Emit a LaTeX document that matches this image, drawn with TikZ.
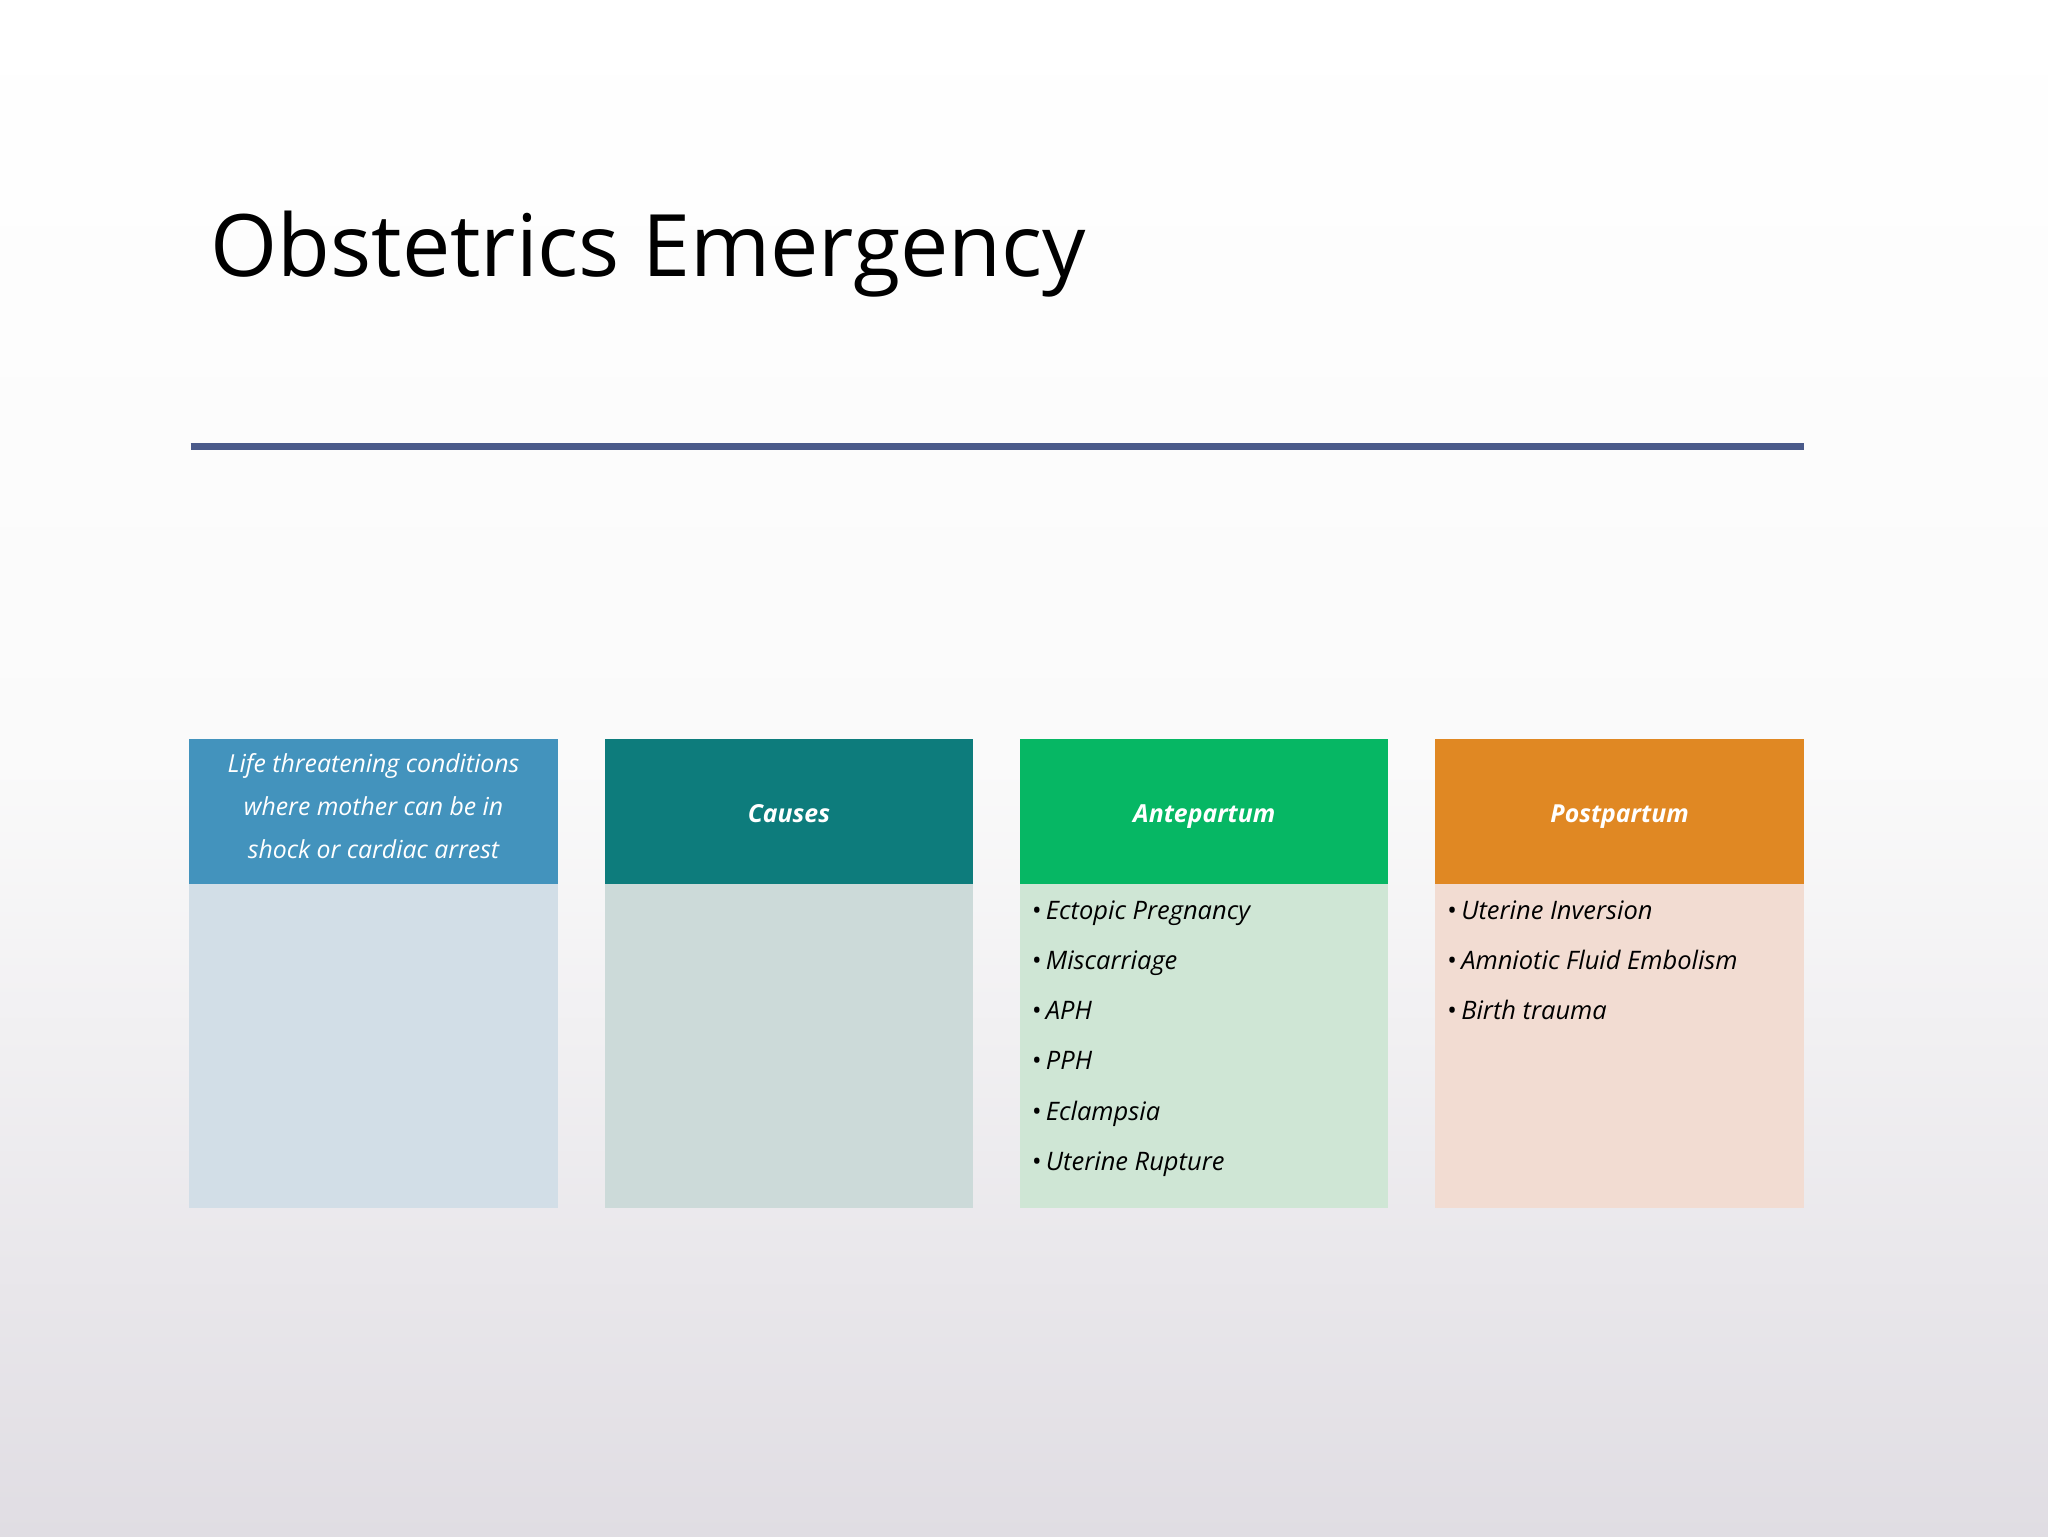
\documentclass[tikz,border=0pt]{standalone}
\usepackage{fontspec}
\setmainfont{Open Sans}
\definecolor{h1}{HTML}{4393BD}\definecolor{b1}{HTML}{D2DEE7}
\definecolor{h2}{HTML}{0D7C7C}\definecolor{b2}{HTML}{CCDAD9}
\definecolor{h3}{HTML}{06B764}\definecolor{b3}{HTML}{CFE6D5}
\definecolor{h4}{HTML}{E08823}\definecolor{b4}{HTML}{F2DCD2}
\definecolor{rule}{HTML}{4A5A8A}
\definecolor{bgbot}{HTML}{E0DDE3}
\begin{document}
\begin{tikzpicture}[x=1pt,y=-1pt,
  hdr/.style={text=white,font=\fontsize{19}{33}\selectfont\itshape,align=center},
  hdrb/.style={text=white,font=\fontsize{19}{33}\selectfont\bfseries\itshape,anchor=base,inner sep=0pt},
  item/.style={anchor=base west,font=\fontsize{19.5}{22}\selectfont\itshape,inner sep=0pt}]
\shade[top color=white,bottom color=bgbot,middle color=white!96!gray] (0,0) rectangle (1568,1176);
\useasboundingbox (0,0) rectangle (1568,1176);
\node[anchor=base west,inner sep=0pt,font=\fontsize{66}{72}\selectfont] (title) at (161,212) {Obstetrics Emergency};
\draw[rule,line width=5] (146,342) -- (1381,342);
\foreach \x/\c/\n in {145/1/a,463/2/b,781/3/c,1099/4/d}{
  \fill[h\c] (\x,566) rectangle ++(282,111);
  \fill[b\c] (\x,677) rectangle ++(282,248);
  \coordinate (\n) at (\x+141,629.5);
}
\node[hdr] (ha) at (286,617) {Life threatening conditions\\where mother can be in\\shock or cardiac arrest};
\node[hdrb] (hb) at (b) {Causes};
\node[hdrb] (hc) at (c) {Antepartum};
\node[hdrb] (hd) at (d) {Postpartum};
\foreach \t [count=\i] in {Ectopic Pregnancy,Miscarriage,APH,PPH,Eclampsia,Uterine Rupture}
  \node[item] (c\i) at (790,{704+38.4*(\i-1)}) {\upshape\textbullet\,\itshape\t};
\foreach \t [count=\i] in {Uterine Inversion,Amniotic Fluid Embolism,Birth trauma}
  \node[item] (d\i) at (1108,{704+38.4*(\i-1)}) {\upshape\textbullet\,\itshape\t};
\end{tikzpicture}
\end{document}
